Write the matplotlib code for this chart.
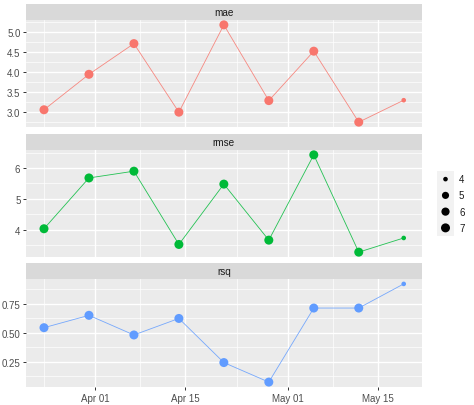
import numpy as np
import pandas as pd
import matplotlib
matplotlib.use("Agg")
import matplotlib.pyplot as plt
import matplotlib.dates as mdates
from matplotlib.ticker import MultipleLocator, FormatStrFormatter

plt.rcParams["font.family"] = ["Liberation Sans", "DejaVu Sans"]

dates = pd.date_range("2020-03-24", periods=9, freq="7D")
n_obs = [7, 7, 7, 7, 7, 7, 7, 7, 4]
mae = [3.05, 3.94, 4.71, 2.99, 5.18, 3.28, 4.52, 2.74, 3.29]
rmse = [4.03, 5.68, 5.90, 3.52, 5.48, 3.66, 6.43, 3.27, 3.73]
rsq = [0.543, 0.65, 0.48, 0.623, 0.241, 0.072, 0.713, 0.713, 0.922]
metrics = ["mae", "rmse", "rsq"]
colors = ["#F8766D", "#00BA38", "#619CFF"]
size_breaks = [4, 5, 6, 7]

W, H, DPI = 474, 406, 100
fig = plt.figure(figsize=(W / DPI, H / DPI), dpi=DPI)


def box(x0, y0, x1, y1):
    # pixel box (top-left origin) -> figure fraction
    return [x0 / W, 1 - y1 / H, (x1 - x0) / W, (y1 - y0) / H]


def marker_area(v):
    d_px = 4.6 + 4.4 * np.sqrt((np.asarray(v, float) - 4) / 3)
    return (d_px * 72 / DPI) ** 2


panels = [(5, 21, 128), (135, 151, 258), (264, 280, 388)]
major_fmt = ["%.1f", "%d", "%.2f"]
major_step = [0.5, 1, 0.25]
values = [mae, rmse, rsq]

x0d = mdates.date2num(dates[0])
x1d = mdates.date2num(dates[-1])
pad = (x1d - x0d) * 0.05
xlim = (x0d - pad, x1d + pad)
xmaj = mdates.date2num(pd.to_datetime(["2020-04-01", "2020-04-15", "2020-05-01", "2020-05-15"]))
xmin_ = mdates.date2num(pd.to_datetime(["2020-03-24", "2020-04-08", "2020-04-23", "2020-05-08", "2020-05-22"]))

for i, (s0, p0, p1) in enumerate(panels):
    strip = fig.add_axes(box(26, s0, 421.7, p0))
    strip.set_facecolor("#D9D9D9")
    strip.set_xticks([])
    strip.set_yticks([])
    for sp in strip.spines.values():
        sp.set_visible(False)
    strip.text(0.5, 0.5, metrics[i], ha="center", va="center", fontsize=7.2, color="#1A1A1A",
               transform=strip.transAxes)

    ax = fig.add_axes(box(26, p0, 421.7, p1))
    ax.set_facecolor("#EBEBEB")
    for sp in ax.spines.values():
        sp.set_visible(False)
    y = np.array(values[i])
    ypad = (y.max() - y.min()) * 0.05
    ax.set_ylim(y.min() - ypad, y.max() + ypad)
    ax.set_xlim(xlim)

    step = major_step[i]
    ax.yaxis.set_major_locator(MultipleLocator(step))
    ax.yaxis.set_minor_locator(MultipleLocator(step / 2))
    ax.yaxis.set_major_formatter(FormatStrFormatter(major_fmt[i]))
    ax.set_xticks(xmaj)
    ax.set_xticks(xmin_, minor=True)
    ax.xaxis.set_major_formatter(mdates.DateFormatter("%b %d"))
    ax.grid(which="major", color="white", linewidth=1.0)
    ax.grid(which="minor", color="white", linewidth=0.5)
    ax.set_axisbelow(True)
    ax.tick_params(which="major", length=2.5, width=0.7, color="#333333", labelsize=7,
                   labelcolor="#4D4D4D", pad=1.5)
    ax.tick_params(which="minor", length=0)
    if i < 2:
        ax.tick_params(axis="x", which="major", length=0, labelbottom=False)

    ax.plot(dates, y, color=colors[i], linewidth=0.6, alpha=0.85, zorder=2)
    ax.scatter(dates, y, s=marker_area(n_obs), color=colors[i], linewidths=0, zorder=3)
    ax.set_xlim(xlim)

# size legend
lax = fig.add_axes(box(437, 172, 454, 237))
lax.set_facecolor("#F2F2F2")
for sp in lax.spines.values():
    sp.set_visible(False)
lax.set_xticks([])
lax.set_yticks([])
lax.set_xlim(0, 1)
lax.set_ylim(len(size_breaks) - 0.5, -0.5)
lax.scatter([0.5] * len(size_breaks), range(len(size_breaks)), s=marker_area(size_breaks),
            color="black", linewidths=0)
for k, b in enumerate(size_breaks):
    yk = 172 + (k + 0.5) * (237 - 172) / len(size_breaks)
    fig.text(459 / W, 1 - yk / H, str(b), fontsize=7, color="#1A1A1A", va="center", ha="left")

fig.savefig("out.png", dpi=DPI)
